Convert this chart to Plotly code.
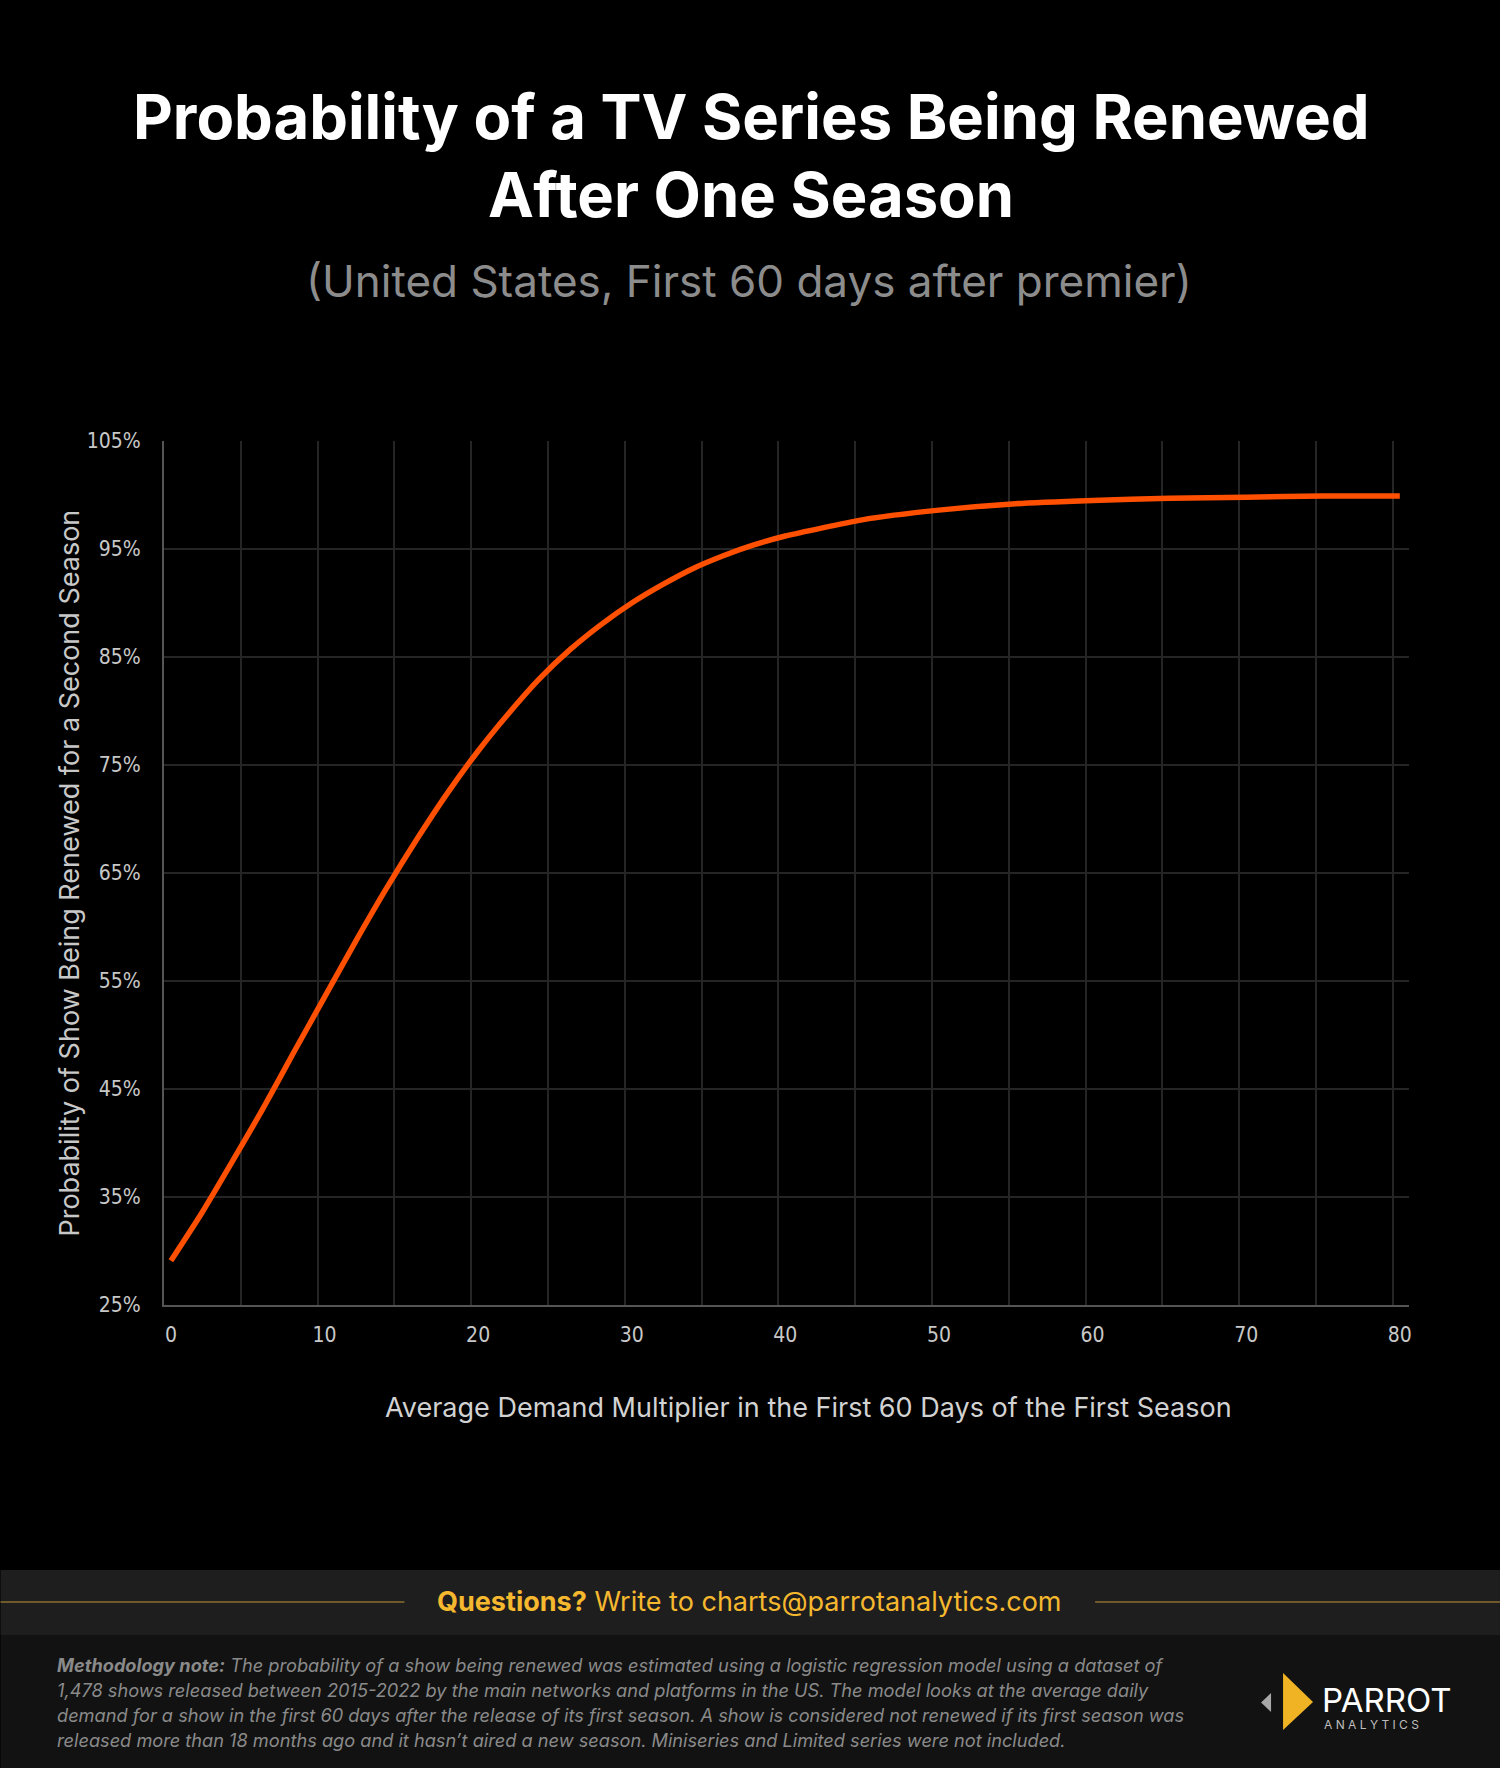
import plotly.graph_objects as go

# ---------------- data ----------------
demand_multiplier = [0, 2, 4, 6, 8, 10, 12, 14, 16, 18, 20, 22, 24, 26, 28, 30,
                     32, 34, 36, 38, 40, 45, 50, 55, 60, 65, 70, 75, 80]
renewal_prob = [29.1, 33.5, 38.3, 43.2, 48.4, 53.5, 58.6, 63.5, 68.1, 72.4, 76.3,
                79.8, 83.0, 85.7, 88.0, 90.0, 91.7, 93.2, 94.4, 95.4, 96.2, 97.7,
                98.6, 99.2, 99.5, 99.7, 99.8, 99.9, 99.9]
x_tick_vals = [0, 10, 20, 30, 40, 50, 60, 70, 80]
y_tick_vals = [25, 35, 45, 55, 65, 75, 85, 95, 105]
y_tick_text = ["25%", "35%", "45%", "55%", "65%", "75%", "85%", "95%", "105%"]

title_lines = ["Probability of a TV Series Being Renewed", "After One Season"]
subtitle = "(United States, First 60 days after premier)"
x_title = "Average Demand Multiplier in the First 60 Days of the First Season"
y_title = "Probability of Show Being Renewed for a Second Season"
note_lines = [
    "<b>Methodology note:</b> The probability of a show being renewed was estimated using a logistic regression model using a dataset of",
    "1,478 shows released between 2015-2022 by the main networks and platforms in the US. The model looks at the average daily",
    "demand for a show in the first 60 days after the release of its first season. A show is considered not renewed if its first season was",
    "released more than 18 months ago and it hasn\u2019t aired a new season. Miniseries and Limited series were not included.",
]

# ---------------- layout geometry ----------------
W, H = 1500, 1768
L, R, T, B = 163.5, 1409, 441, 1305


def px(X):
    return (X - L) / (R - L)


def py(Y):
    return (B - Y) / (B - T)


TITLE_FONT = "Inter, Lato, sans-serif"
TICK_FONT = "Liberation Sans Narrow, DejaVu Sans Condensed, DejaVu Sans, sans-serif"
GRID = "#252525"

fig = go.Figure()
fig.add_trace(go.Scatter(
    x=demand_multiplier, y=renewal_prob, mode="lines",
    line=dict(color="#FF4F00", width=5.5, shape="spline", smoothing=0.6),
    showlegend=False, hoverinfo="skip",
))
# invisible companion trace to carry the offset vertical grid axis
fig.add_trace(go.Scatter(
    x=demand_multiplier, y=renewal_prob, mode="lines", xaxis="x2",
    line=dict(width=0), opacity=0, showlegend=False, hoverinfo="skip",
))

annotations = [
    dict(text="<b>" + title_lines[0] + "</b>", x=px(751), y=py(116)),
    dict(text="<b>" + title_lines[1] + "</b>", x=px(751), y=py(194)),
]
for a in annotations:
    a.update(xref="paper", yref="paper", showarrow=False, xanchor="center",
             yanchor="middle", font=dict(family=TITLE_FONT, size=61.5, color="#ffffff"))

annotations += [
    dict(text=subtitle, x=px(749), y=py(281), xref="paper", yref="paper",
         showarrow=False, xanchor="center", yanchor="middle",
         font=dict(family=TITLE_FONT, size=44, color="#8c8c8c")),
    dict(text=x_title, x=px(808), y=py(1407), xref="paper", yref="paper",
         showarrow=False, xanchor="center", yanchor="middle",
         font=dict(family=TITLE_FONT, size=27, color="#d2d2d2")),
    dict(text=y_title, x=px(68), y=py(873), xref="paper", yref="paper",
         showarrow=False, xanchor="center", yanchor="middle", textangle=-90,
         font=dict(family=TITLE_FONT, size=27, color="#c8c8c8")),
    dict(text="<b>Questions?</b> Write to charts@parrotanalytics.com",
         x=px(749), y=py(1601), xref="paper", yref="paper", showarrow=False,
         xanchor="center", yanchor="middle",
         font=dict(family=TITLE_FONT, size=27, color="#F5B82E")),
    dict(text="PARROT", x=px(1320), y=py(1700), xref="paper", yref="paper",
         showarrow=False, xanchor="left", yanchor="middle",
         font=dict(family=TITLE_FONT, size=33, color="#ffffff")),
    dict(text="A N A L Y T I C S", x=px(1322), y=py(1724), xref="paper", yref="paper",
         showarrow=False, xanchor="left", yanchor="middle",
         font=dict(family=TITLE_FONT, size=12, color="#bdbdbd")),
]
note_y = [1665, 1690, 1715, 1740]
for line, yy in zip(note_lines, note_y):
    annotations.append(dict(
        text="<i>" + line + "</i>", x=px(54), y=py(yy), xref="paper", yref="paper",
        showarrow=False, xanchor="left", yanchor="middle",
        font=dict(family=TITLE_FONT, size=18.2, color="#8a8a8a")))

shapes = [
    dict(type="rect", xref="paper", yref="paper", x0=px(0), x1=px(W), y0=py(1570),
         y1=py(1635), fillcolor="#1e1e1e", line=dict(width=0), layer="below"),
    dict(type="rect", xref="paper", yref="paper", x0=px(0), x1=px(W), y0=py(1635),
         y1=py(H), fillcolor="#121212", line=dict(width=0), layer="below"),
    dict(type="line", xref="paper", yref="paper", x0=px(0), x1=px(404), y0=py(1602),
         y1=py(1602), line=dict(color="#6e5a2a", width=2)),
    dict(type="line", xref="paper", yref="paper", x0=px(1095), x1=px(W), y0=py(1602),
         y1=py(1602), line=dict(color="#6e5a2a", width=2)),
    # logo: gold chevron and small grey triangle
    dict(type="path", xref="paper", yref="paper",
         path=f"M {px(1283)},{py(1673)} L {px(1313)},{py(1702)} L {px(1283)},{py(1730)} Z",
         fillcolor="#F0B323", line=dict(width=0)),
    dict(type="path", xref="paper", yref="paper",
         path=f"M {px(1271)},{py(1693)} L {px(1261)},{py(1702.5)} L {px(1271)},{py(1712)} Z",
         fillcolor="#a8a8a8", line=dict(width=0)),
]

tick_font = dict(family=TICK_FONT, size=21, color="#c8c8c8")

fig.update_layout(
    width=W, height=H,
    margin=dict(l=L, r=W - R, t=T, b=H - B, pad=0),
    paper_bgcolor="#000000", plot_bgcolor="#000000",
    showlegend=False,
    xaxis=dict(range=[-0.45, 80.6], tickvals=x_tick_vals, showgrid=False,
               zeroline=False, showline=True, linecolor="#555555", linewidth=2,
               ticks="", ticklabelstandoff=10, tickfont=tick_font),
    xaxis2=dict(range=[0, 81.05], overlaying="x", side="bottom", tick0=0, dtick=5,
                showgrid=True, gridcolor=GRID, gridwidth=1.5,
                showticklabels=False, zeroline=False, showline=False, ticks=""),
    yaxis=dict(range=[25, 105], tickvals=y_tick_vals, ticktext=y_tick_text,
               showgrid=True, gridcolor=GRID, gridwidth=1.5, zeroline=False,
               showline=True, linecolor="#555555", linewidth=2, ticks="",
               ticklabelstandoff=17, tickfont=tick_font),
    annotations=annotations,
    shapes=shapes,
)

post_js = (
    "document.body.style.margin='0';"
    "document.body.style.background='#000';"
    "var s=document.createElement('style');"
    "s.textContent='.xtick text,.ytick text{font-stretch:condensed !important;}';"
    "document.head.appendChild(s);"
)

fig.write_html("out.html", post_script=post_js, config={"displayModeBar": False})
